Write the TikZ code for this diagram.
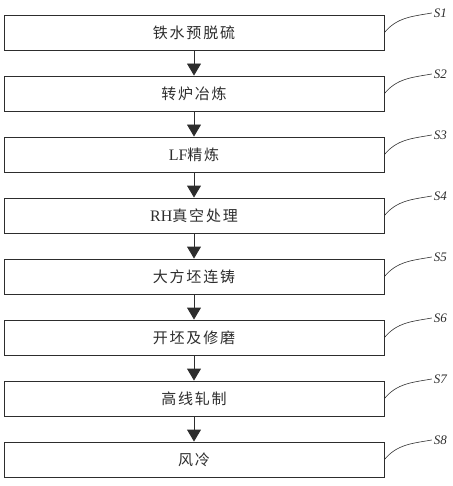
\documentclass[tikz,border=0pt]{standalone}
\usepackage{fontspec}
\setmainfont{Liberation Serif}
\newfontfamily\cjk[LetterSpace=12]{Noto Sans CJK SC}
\usetikzlibrary{positioning,arrows.meta}
\definecolor{inkgray}{RGB}{45,45,45}
\begin{document}
\begin{tikzpicture}[node distance=61pt,
    stepbox/.style={draw=inkgray, line width=0.9pt, rectangle, fill=white, minimum width=380pt, minimum height=35pt, text=inkgray, font=\fontsize{16pt}{18pt}\selectfont},
    slabel/.style={inner sep=2pt, text=inkgray, font=\fontsize{13pt}{15pt}\selectfont\itshape},
    leader/.style={draw=inkgray, line width=0.6pt},
    flow/.style={draw=inkgray, line width=0.9pt, -{Triangle[width=14pt,length=12pt]}}]
    \useasboundingbox (0,0) rectangle (452pt,-486pt);

    \node (step1) [stepbox] at (194pt,-32.5pt) {\cjk\fontsize{15pt}{18pt}\selectfont 铁水预脱硫};
    \node (step2) [stepbox, below of=step1] {\cjk\fontsize{15pt}{18pt}\selectfont 转炉冶炼};
    \node (step3) [stepbox, below of=step2] {LF{\cjk\fontsize{15pt}{18pt}\selectfont 精炼}};
    \node (step4) [stepbox, below of=step3] {RH{\cjk\fontsize{15pt}{18pt}\selectfont 真空处理}};
    \node (step5) [stepbox, below of=step4] {\cjk\fontsize{15pt}{18pt}\selectfont 大方坯连铸};
    \node (step6) [stepbox, below of=step5] {\cjk\fontsize{15pt}{18pt}\selectfont 开坯及修磨};
    \node (step7) [stepbox, below of=step6] {\cjk\fontsize{15pt}{18pt}\selectfont 高线轧制};
    \node (step8) [stepbox, below of=step7] {\cjk\fontsize{15pt}{18pt}\selectfont 风冷};

    \draw[flow] (step1) -- (step2);
    \draw[flow] (step2) -- (step3);
    \draw[flow] (step3) -- (step4);
    \draw[flow] (step4) -- (step5);
    \draw[flow] (step5) -- (step6);
    \draw[flow] (step6) -- (step7);
    \draw[flow] (step7) -- (step8);

    % step labels with leader curves
    \foreach \i in {1,...,8} {
        \node (lab\i) [slabel, xshift=56pt, yshift=19.5pt] at (step\i.east) {S\i};
        \draw[leader] (step\i.east) to[out=50, in=190] (lab\i.west);
    }
\end{tikzpicture}
\end{document}
